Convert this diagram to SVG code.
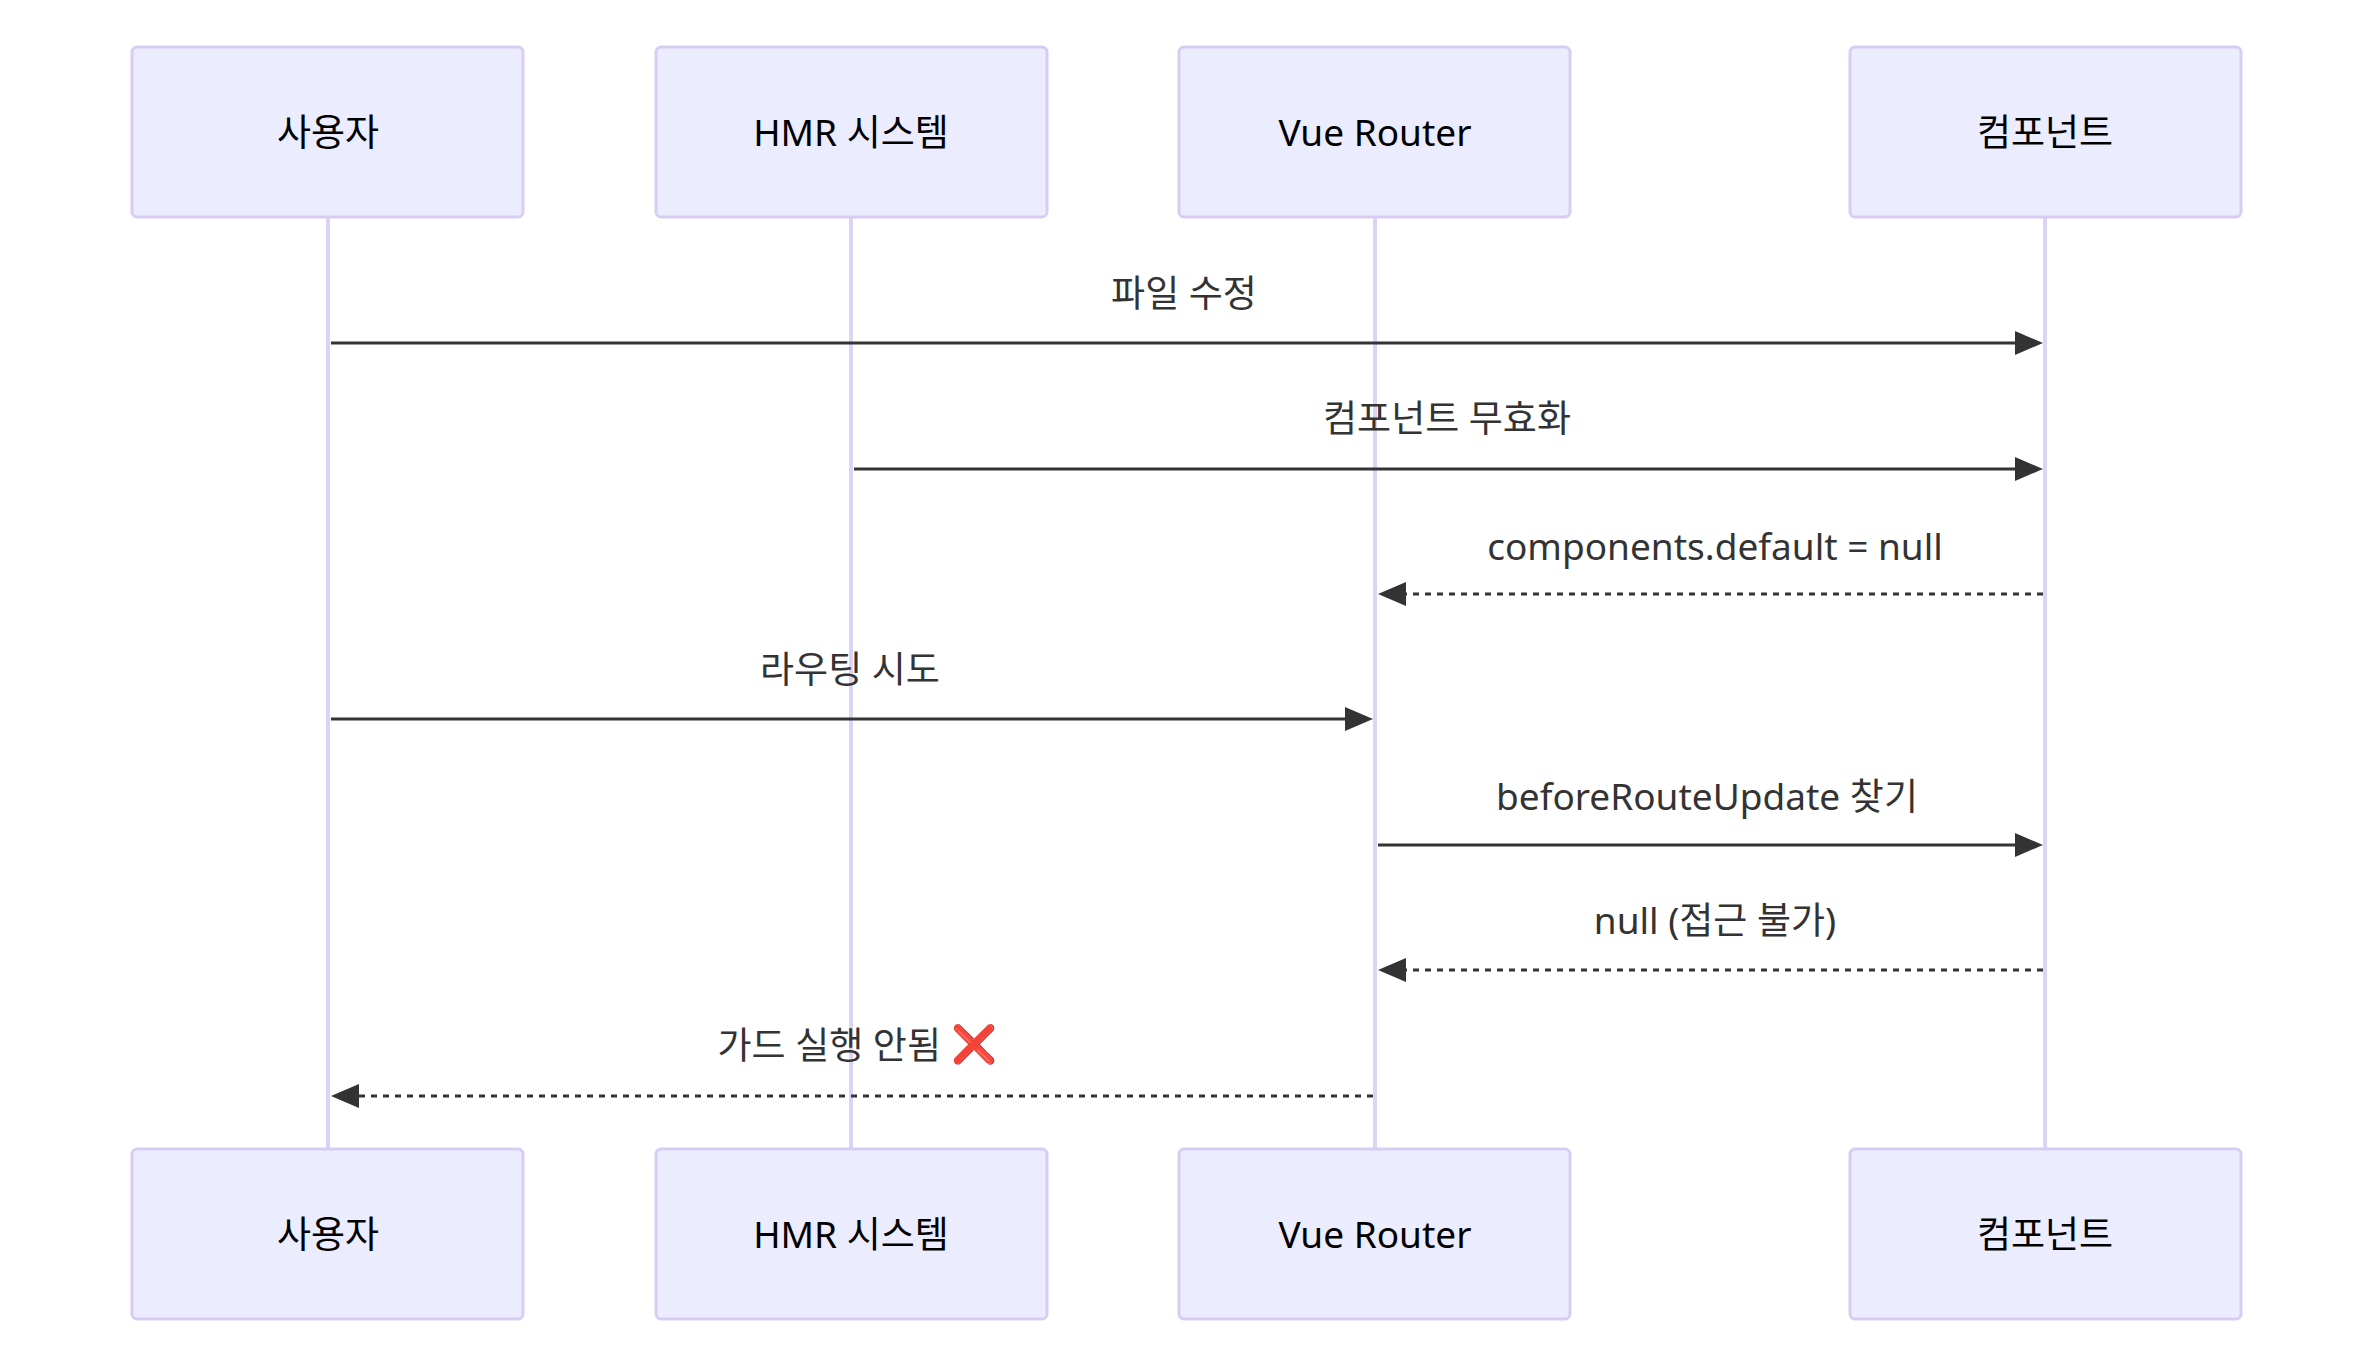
<svg xmlns="http://www.w3.org/2000/svg" width="2358" height="1360" viewBox="0 0 2358 1360">
<style>
.box{fill:#ececff;stroke:#d7cdf3;stroke-width:3}
.life{stroke:#ddd3f4;stroke-width:4}
.an{font-family:"Noto Sans","Noto Sans CJK KR",sans-serif;font-size:37px;fill:#000;text-anchor:middle;dominant-baseline:central}
.lb{font-family:"Noto Sans","Noto Sans CJK KR",sans-serif;font-size:37px;fill:#333;text-anchor:middle;dominant-baseline:central}
.m{stroke:#333;stroke-width:3;fill:none}
.d{stroke-dasharray:6 6}
</style>
<g id="lifelines">
<line class="life" x1="328" y1="217" x2="328" y2="1149"/>
<line class="life" x1="851" y1="217" x2="851" y2="1149"/>
<line class="life" x1="1375" y1="217" x2="1375" y2="1149"/>
<line class="life" x1="2045" y1="217" x2="2045" y2="1149"/>
</g>
<g id="actor-user-top"><rect class="box" x="132" y="47" width="391" height="170" rx="5"/><text class="an" x="328" y="131">사용자</text></g>
<g id="actor-hmr-top"><rect class="box" x="656" y="47" width="391" height="170" rx="5"/><text class="an" x="851" y="131">HMR 시스템</text></g>
<g id="actor-router-top"><rect class="box" x="1179" y="47" width="391" height="170" rx="5"/><text class="an" x="1375" y="131">Vue Router</text></g>
<g id="actor-comp-top"><rect class="box" x="1850" y="47" width="391" height="170" rx="5"/><text class="an" x="2045" y="131">컴포넌트</text></g>
<g id="actor-user-bottom"><rect class="box" x="132" y="1149" width="391" height="170" rx="5"/><text class="an" x="328" y="1233">사용자</text></g>
<g id="actor-hmr-bottom"><rect class="box" x="656" y="1149" width="391" height="170" rx="5"/><text class="an" x="851" y="1233">HMR 시스템</text></g>
<g id="actor-router-bottom"><rect class="box" x="1179" y="1149" width="391" height="170" rx="5"/><text class="an" x="1375" y="1233">Vue Router</text></g>
<g id="actor-comp-bottom"><rect class="box" x="1850" y="1149" width="391" height="170" rx="5"/><text class="an" x="2045" y="1233">컴포넌트</text></g>
<g id="connectors">
<line class="m" x1="331" y1="343" x2="2030" y2="343"/><path d="M2043,343 l-28,-12 v24 z" fill="#333"/>
<text class="lb" x="1184" y="292">파일 수정</text>
<line class="m" x1="854" y1="469" x2="2030" y2="469"/><path d="M2043,469 l-28,-12 v24 z" fill="#333"/>
<text class="lb" x="1447" y="417">컴포넌트 무효화</text>
<line class="m d" x1="2043" y1="594" x2="1390" y2="594"/><path d="M1378,594 l28,-12 v24 z" fill="#333"/>
<text class="lb" x="1715" y="545">components.default = null</text>
<line class="m" x1="331" y1="719" x2="1360" y2="719"/><path d="M1373,719 l-28,-12 v24 z" fill="#333"/>
<text class="lb" x="850" y="668">라우팅 시도</text>
<line class="m" x1="1378" y1="845" x2="2030" y2="845"/><path d="M2043,845 l-28,-12 v24 z" fill="#333"/>
<text class="lb" x="1707" y="795">beforeRouteUpdate 찾기</text>
<line class="m d" x1="2043" y1="970" x2="1390" y2="970"/><path d="M1378,970 l28,-12 v24 z" fill="#333"/>
<text class="lb" x="1715" y="919">null (접근 불가)</text>
<line class="m d" x1="1373" y1="1096" x2="343" y2="1096"/><path d="M331,1096 l28,-12 v24 z" fill="#333"/>
<text class="lb" x="857" y="1044">가드 실행 안됨 <tspan fill="#e0001b" font-family="DejaVu Sans,sans-serif">❌</tspan></text>
</g>
</svg>
